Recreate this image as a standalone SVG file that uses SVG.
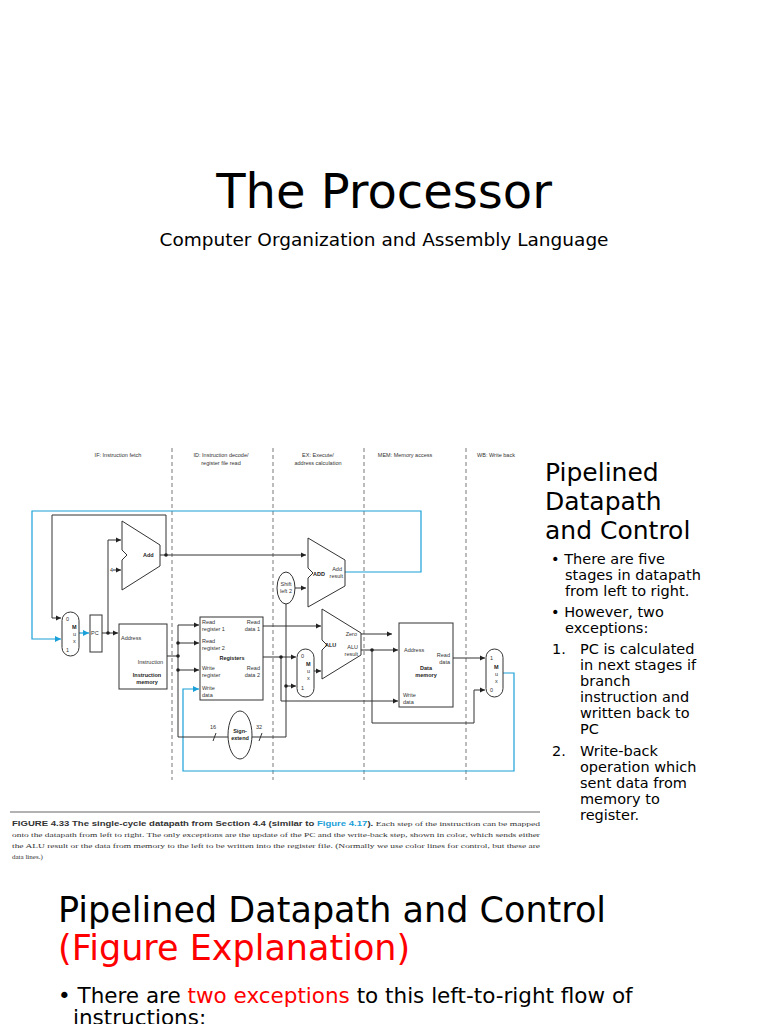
<svg xmlns="http://www.w3.org/2000/svg" width="768" height="1024" viewBox="0 0 768 1024">
<defs>
<marker id="a" markerWidth="6" markerHeight="6" refX="5" refY="3" orient="auto"><path d="M0,0.5 L5,3 L0,5.5z" fill="#222"/></marker>
<marker id="b" markerWidth="6" markerHeight="6" refX="5" refY="3" orient="auto"><path d="M0,0.5 L5,3 L0,5.5z" fill="#1aa0d8"/></marker>
<style>
.t{font-family:"DejaVu Sans",sans-serif;fill:#000}
.s{font-family:"Liberation Sans",Arial,sans-serif;font-size:5.5px;fill:#333}
.sb{font-family:"Liberation Sans",Arial,sans-serif;font-size:5.5px;font-weight:bold;fill:#222}
.k{fill:none;stroke:#333;stroke-width:1}
.bl{fill:none;stroke:#1aa0d8;stroke-width:1.2}
.n{fill:#fff;stroke:#333;stroke-width:1}
.d{stroke:#555;stroke-width:0.8;stroke-dasharray:4,3}
.c{font-family:"Liberation Serif",serif;font-size:7px;fill:#333}
</style>
</defs>
<rect width="768" height="1024" fill="#fff"/>
<text class="t" x="384" y="208" font-size="48" text-anchor="middle">The Processor</text>
<text class="t" x="384" y="246" font-size="18.5" text-anchor="middle">Computer Organization and Assembly Language</text>

<g id="stages">
<line class="d" x1="172" y1="448" x2="172" y2="780"/>
<line class="d" x1="273" y1="448" x2="273" y2="780"/>
<line class="d" x1="364" y1="448" x2="364" y2="780"/>
<line class="d" x1="466" y1="448" x2="466" y2="780"/>
<text class="s" x="118" y="457" text-anchor="middle">IF: Instruction fetch</text>
<text class="s" x="221" y="457" text-anchor="middle">ID: Instruction decode/</text>
<text class="s" x="221" y="465" text-anchor="middle">register file read</text>
<text class="s" x="318" y="457" text-anchor="middle">EX: Execute/</text>
<text class="s" x="318" y="465" text-anchor="middle">address calculation</text>
<text class="s" x="405" y="457" text-anchor="middle">MEM: Memory access</text>
<text class="s" x="496" y="457" text-anchor="middle">WB: Write back</text>
</g>

<g id="connectors">
<polyline class="bl" points="345,572 421,572 421,511 32,511 32,639 61,639" marker-end="url(#b)"/>
<line class="bl" x1="79" y1="633" x2="89" y2="633" marker-end="url(#b)"/>
<polyline class="bl" points="503,673 514,673 514,771 183,771 183,689 199,689" marker-end="url(#b)"/>
<polyline class="k" points="166,555 166,515 52,515 52,618 61,618" marker-end="url(#a)"/>
<line class="k" x1="160" y1="555" x2="306" y2="555" marker-end="url(#a)"/>
<polyline class="k" points="102,633 108,633 108,540 121,540" marker-end="url(#a)"/>
<line class="k" x1="113" y1="570" x2="121" y2="570" marker-end="url(#a)"/>
<line class="k" x1="108" y1="633" x2="118" y2="633" marker-end="url(#a)"/>
<polyline class="k" points="167,656 178,656"/>
<polyline class="k" points="178,625 178,737 228,737"/>
<line class="k" x1="178" y1="625" x2="199" y2="625" marker-end="url(#a)"/>
<line class="k" x1="178" y1="643" x2="199" y2="643" marker-end="url(#a)"/>
<line class="k" x1="178" y1="670" x2="199" y2="670" marker-end="url(#a)"/>
<polyline class="k" points="252,737 286,737 286,604"/>
<line class="k" x1="295" y1="588" x2="306" y2="588" marker-end="url(#a)"/>
<line class="k" x1="263" y1="626" x2="321" y2="626" marker-end="url(#a)"/>
<polyline class="k" points="263,657 281,657 296,657" marker-end="url(#a)"/>
<polyline class="k" points="281,657 281,701 398,701" marker-end="url(#a)"/>
<line class="k" x1="286" y1="686" x2="296" y2="686" marker-end="url(#a)"/>
<line class="k" x1="314" y1="671" x2="321" y2="671" marker-end="url(#a)"/>
<line class="k" x1="361" y1="634" x2="392" y2="634" marker-end="url(#a)"/>
<line class="k" x1="361" y1="650" x2="398" y2="650" marker-end="url(#a)"/>
<polyline class="k" points="372,650 372,723 474,723 474,690 485,690" marker-end="url(#a)"/>
<line class="k" x1="453" y1="658" x2="485" y2="658" marker-end="url(#a)"/>
<g fill="#222"><circle cx="166" cy="555" r="1.8"/><circle cx="108" cy="633" r="1.8"/><circle cx="178" cy="643" r="1.8"/><circle cx="178" cy="656" r="1.8"/><circle cx="178" cy="670" r="1.8"/><circle cx="281" cy="657" r="1.8"/><circle cx="286" cy="686" r="1.8"/><circle cx="372" cy="650" r="1.8"/></g>
<line class="k" x1="213" y1="741" x2="216" y2="733"/><line class="k" x1="259" y1="741" x2="262" y2="733"/>
<text class="s" x="210" y="729">16</text><text class="s" x="256" y="729">32</text>
<text class="s" x="110" y="572">4</text>
</g>

<g id="mux1"><rect class="n" x="62" y="612" width="17" height="44" rx="8.5"/><text class="s" x="66" y="621">0</text><text class="sb" x="72" y="629">M</text><text class="s" x="73" y="636">u</text><text class="s" x="73" y="643">x</text><text class="s" x="66" y="652">1</text></g>
<g id="pc"><rect class="n" x="90" y="615" width="12" height="37"/><text class="s" x="91" y="635">PC</text></g>
<g id="add"><path class="n" d="M122,521 L160,545 L160,566 L122,590 L122,560 L127,555 L122,550z"/><text class="sb" x="143" y="557">Add</text></g>
<g id="imem"><rect class="n" x="119" y="624" width="48" height="65"/><text class="s" x="121" y="640">Address</text><text class="s" x="163" y="664" text-anchor="end">Instruction</text><text class="sb" x="147" y="677" text-anchor="middle">Instruction</text><text class="sb" x="147" y="684" text-anchor="middle">memory</text></g>
<g id="regs"><rect class="n" x="200" y="617" width="63" height="83"/><text class="s" x="202" y="624">Read</text><text class="s" x="202" y="631">register 1</text><text class="s" x="202" y="643">Read</text><text class="s" x="202" y="650">register 2</text><text class="s" x="202" y="670">Write</text><text class="s" x="202" y="677">register</text><text class="s" x="202" y="690">Write</text><text class="s" x="202" y="697">data</text><text class="s" x="260" y="624" text-anchor="end">Read</text><text class="s" x="260" y="631" text-anchor="end">data 1</text><text class="s" x="260" y="670" text-anchor="end">Read</text><text class="s" x="260" y="677" text-anchor="end">data 2</text><text class="sb" x="232" y="660" text-anchor="middle">Registers</text></g>
<g id="signext"><ellipse class="n" cx="240" cy="735" rx="12" ry="24"/><text class="sb" x="240" y="733" text-anchor="middle">Sign-</text><text class="sb" x="240" y="740" text-anchor="middle">extend</text></g>
<g id="shift"><ellipse class="n" cx="286" cy="588" rx="9" ry="16"/><text class="s" x="286" y="586" text-anchor="middle">Shift</text><text class="s" x="286" y="593" text-anchor="middle">left 2</text></g>
<g id="addb"><path class="n" d="M308,538 L345,560 L345,586 L308,607 L308,578 L313,573 L308,568z"/><text class="sb" x="313" y="576">ADD</text><text class="s" x="342" y="571" text-anchor="end">Add</text><text class="s" x="343" y="578" text-anchor="end">result</text></g>
<g id="alu"><path class="n" d="M322,609 L361,633 L361,655 L322,679 L322,650 L327,645 L322,640z"/><text class="sb" x="325" y="647">ALU</text><text class="s" x="357" y="636" text-anchor="end">Zero</text><text class="s" x="358" y="649" text-anchor="end">ALU</text><text class="s" x="358" y="656" text-anchor="end">result</text></g>
<g id="mux2"><rect class="n" x="297" y="649" width="17" height="48" rx="8.5"/><text class="s" x="301" y="658">0</text><text class="sb" x="306" y="666">M</text><text class="s" x="307" y="673">u</text><text class="s" x="307" y="680">x</text><text class="s" x="301" y="690">1</text></g>
<g id="dmem"><rect class="n" x="399" y="623" width="54" height="84"/><text class="s" x="404" y="652">Address</text><text class="s" x="450" y="657" text-anchor="end">Read</text><text class="s" x="450" y="664" text-anchor="end">data</text><text class="sb" x="426" y="670" text-anchor="middle">Data</text><text class="sb" x="426" y="677" text-anchor="middle">memory</text><text class="s" x="403" y="697">Write</text><text class="s" x="403" y="704">data</text></g>
<g id="mux3"><rect class="n" x="486" y="649" width="17" height="48" rx="8.5"/><text class="s" x="490" y="660">1</text><text class="sb" x="494" y="669">M</text><text class="s" x="495" y="676">u</text><text class="s" x="495" y="683">x</text><text class="s" x="490" y="692">0</text></g>

<g id="caption">
<line x1="10" y1="812" x2="540" y2="812" stroke="#999" stroke-width="1.5"/>
<text class="c" x="12" y="826" textLength="528" lengthAdjust="spacingAndGlyphs"><tspan font-family="Liberation Sans,sans-serif" font-weight="bold">FIGURE 4.33    The single-cycle datapath from Section 4.4 (similar to <tspan fill="#1aa0d8">Figure 4.17</tspan>).</tspan> Each step of the instruction can be mapped</text>
<text class="c" x="12" y="837" textLength="528" lengthAdjust="spacingAndGlyphs">onto the datapath from left to right. The only exceptions are the update of the PC and the write-back step, shown in color, which sends either</text>
<text class="c" x="12" y="848" textLength="528" lengthAdjust="spacingAndGlyphs">the ALU result or the data from memory to the left to be written into the register file. (Normally we use color lines for control, but these are</text>
<text class="c" x="12" y="859">data lines.)</text>
</g>

<g id="side" class="t">
<text x="545" y="481" font-size="25">Pipelined</text>
<text x="545" y="510" font-size="25">Datapath</text>
<text x="545" y="539" font-size="25">and Control</text>
<g font-size="14.5">
<text x="551" y="564">• There are five</text><text x="565" y="580">stages in datapath</text><text x="565" y="596">from left to right.</text>
<text x="551" y="617">• However, two</text><text x="565" y="633">exceptions:</text>
<text x="552" y="654">1.</text><text x="580" y="654">PC is calculated</text><text x="580" y="670">in next stages if</text><text x="580" y="686">branch</text><text x="580" y="702">instruction and</text><text x="580" y="718">written back to</text><text x="580" y="734">PC</text>
<text x="552" y="756">2.</text><text x="580" y="756">Write-back</text><text x="580" y="772">operation which</text><text x="580" y="788">sent data from</text><text x="580" y="804">memory to</text><text x="580" y="820">register.</text>
</g>
</g>

<g id="bottom" class="t">
<text x="58" y="922" font-size="35">Pipelined Datapath and Control</text>
<text x="58" y="960" font-size="35" style="fill:#ff0000">(Figure Explanation)</text>
<text x="58" y="1003" font-size="21.5">• There are <tspan style="fill:#ff0000">two exceptions</tspan> to this left-to-right flow of</text>
<text x="73" y="1025" font-size="21.5">instructions:</text>
</g>
</svg>
